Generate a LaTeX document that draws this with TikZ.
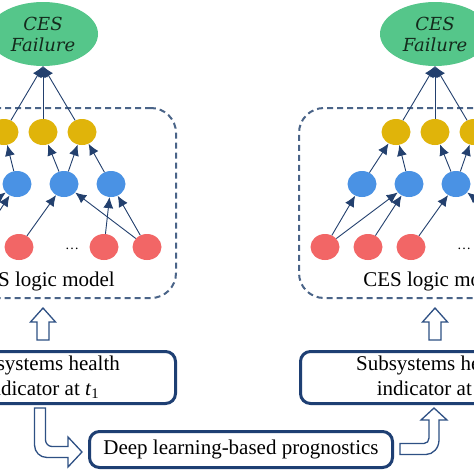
\documentclass[tikz,border=0pt]{standalone}
\usepackage{fontspec}
\setmainfont{Liberation Serif}
\newfontfamily\failfont{DejaVu Serif}
\usetikzlibrary{shapes.geometric,arrows.meta}
\definecolor{cgreen}{HTML}{55C68A}
\definecolor{cyellow}{HTML}{E0B40A}
\definecolor{cblue}{HTML}{4A92E4}
\definecolor{cred}{HTML}{F26666}
\definecolor{navy}{HTML}{1E3F73}
\definecolor{edgec}{HTML}{23406E}
\definecolor{dashc}{HTML}{4A6488}
\definecolor{hollowc}{HTML}{2E5084}
\definecolor{failtext}{HTML}{142A1C}
\tikzset{
 fail/.style={ellipse, fill=cgreen, minimum width=110pt, minimum height=64pt, inner sep=0pt, align=center, text=failtext, font=\failfont\itshape\fontsize{18}{21}\selectfont},
 dotnode/.style={ellipse, minimum width=29pt, minimum height=26pt, inner sep=0pt},
 ynode/.style={dotnode, fill=cyellow},
 bnode/.style={dotnode, fill=cblue},
 rnode/.style={dotnode, fill=cred},
 arr/.style={draw=edgec, line width=0.9pt, -{Latex[length=11pt,width=10pt]}},
 dashbox/.style={draw=dashc, line width=2pt, dash pattern=on 6pt off 4pt, rounded corners=25pt, minimum width=269pt, minimum height=190pt},
 hibox/.style={draw=navy, line width=3pt, rounded corners=10pt, align=center, font=\fontsize{21}{25}\selectfont},
 hollow/.style={draw=hollowc, line width=1.3pt, fill=white, line join=miter},
 lbl/.style={font=\fontsize{21}{24}\selectfont, anchor=base},
 dotslbl/.style={font=\fontsize{14}{14}\selectfont, anchor=base},
}
\newcommand\cespanel[3]{%
\begin{scope}[shift={(#2,0)}]
 \node[fail] (#1f) at (0,34) {CES\\Failure};
 \node[dashbox] (#1m) at (-1.5,203) {};
 \node[ynode] (#1y1) at (-39,132) {};
 \node[ynode] (#1y2) at (0,132) {};
 \node[ynode] (#1y3) at (39,132) {};
 \node[bnode] (#1b1) at (-73,184) {};
 \node[bnode] (#1b2) at (-26,184) {};
 \node[bnode] (#1b3) at (21,184) {};
 \node[bnode] (#1b4) at (68,184) {};
 \node[rnode] (#1r1) at (-110,247) {};
 \node[rnode] (#1r2) at (-67,247) {};
 \node[rnode] (#1r3) at (-24,247) {};
 \node[rnode] (#1r4) at (61,247) {};
 \node[rnode] (#1r5) at (104,247) {};
 \node[dotslbl] (#1dots) at (29,249) {\dots};
 \node[lbl] (#1t) at (0,286) {CES logic model};
 \draw[arr] (#1y1) -- (#1f.south);
 \draw[arr] (#1y2) -- (#1f.south);
 \draw[arr] (#1y3) -- (#1f.south);
 \draw[arr] (#1b1) -- (#1y1);
 \draw[arr] (#1b2) -- (#1y1);
 \draw[arr] (#1b3) -- (#1y2);
 \draw[arr] (#1b3) -- (#1y3);
 \draw[arr] (#1b4) -- (#1y3);
 \draw[arr] (#1r1) -- (#1b1);
 \draw[arr] (#1r1) -- (#1b2);
 \draw[arr] (#1r2) -- (#1b2);
 \draw[arr] (#1r3) -- (#1b3);
 \draw[arr] (#1r5) -- (#1b3);
 \draw[arr] (#1r4) -- (#1b4);
 \draw[arr] (#1r5) -- (#1b4);
 \path[hollow] (-6,340) -- (-6,322) -- (-12.5,322) -- (0,308) -- (12.5,322) -- (6,322) -- (6,340) -- cycle;
 \node[hibox, minimum width=267pt, minimum height=52pt] (#1h) at (-1,377.5) {Subsystems health\\indicator at \textit{t}\textsubscript{#3}};
\end{scope}}
\begin{document}
\begin{tikzpicture}[x=1pt,y=-1pt]
\useasboundingbox (0,0) rectangle (474,474);
\fill[white] (0,0) rectangle (474,474);
\clip (0,0) rectangle (474,474);
\cespanel{L}{43}{1}
\cespanel{R}{435}{2}
% bent hollow arrows
\path[hollow] (34.5,408) -- (34.5,445) .. controls (34.5,452) and (40,457.5) .. (47,457.5) -- (68,457.5) -- (68,467) -- (82,452) -- (68,437) -- (68,446.5) -- (52,446.5) .. controls (48.5,446.5) and (45.5,443.5) .. (45.5,440) -- (45.5,408) -- cycle;
\path[hollow] (400,443.5) -- (424,443.5) .. controls (427,443.5) and (429,441) .. (429,438) -- (429,420) -- (421,420) -- (434,408) -- (447,420) -- (439,420) -- (439,440) .. controls (439,448) and (433,454.5) .. (426,454.5) -- (400,454.5) -- cycle;
\node[hibox, minimum width=303pt, minimum height=36pt] (dl) at (241,449.5) {Deep learning-based prognostics};
\end{tikzpicture}
\end{document}
